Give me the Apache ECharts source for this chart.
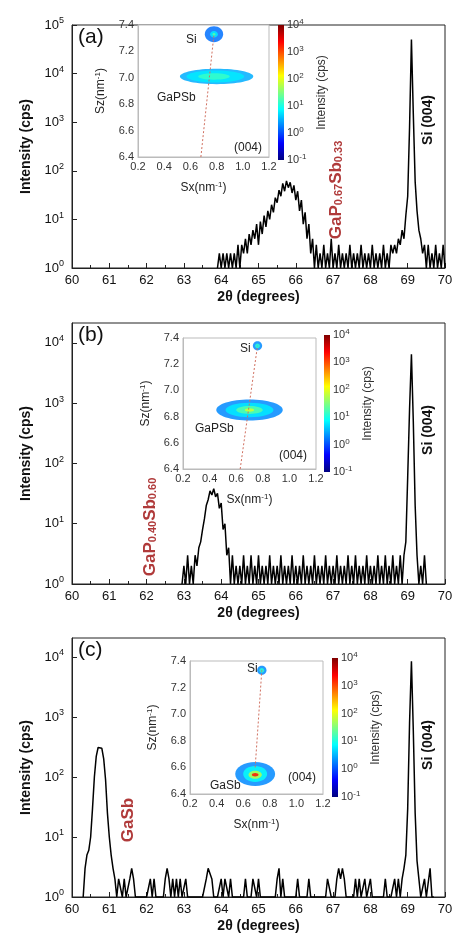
<!DOCTYPE html>
<html>
<head>
<meta charset="utf-8">
<script src="https://cdn.jsdelivr.net/npm/echarts@6/dist/echarts.min.js"></script>
<style>html,body{margin:0;padding:0;background:#fff}#main{width:474px;height:934px}</style>
</head>
<body>
<div id="main"></div>
<script>
// XRD scans, 0.05 deg step, start angle per panel
var stepDeg=0.05;
var startA=63.90;
var intensA=[1,2,1,2,1,2,1,2,1,2,1,3,
 1,3,2,4,2,5,3,6,4,8,
 3,9,5,12,7,15,10,20,14,28,
 22,40,30,55,38,62,45,58,35,50,
 25,38,15,25,8,14,4,8,2,4,
 1,3,1,2,1,3,1,2,1,4,
 1,2,1,3,1,2,1,2,1,3,
 1,2,1,2,1,3,1,2,1,2,
 1,3,1,2,1,2,1,3,1,2,
 1,3,2,3,2,4,3,6,4,12,
 30,800,50000,1500,60,15,6,4,2,3,
 1,3,1,2,1,3,1,2,1,3,
 1];
var startB=62.95;
var intensB=[1,2,1,3,1,2,1,3,2,4,
 5,8,12,20,25,35,30,38,28,32,
 18,22,8,10,3,4,1,3,1,2,
 1,2,1,3,1,2,1,3,1,2,
 1,3,1,2,1,2,1,3,1,2,
 1,2,1,3,1,2,1,2,1,3,1,2,1,2,1,3,1,2,1,2,
 1,3,1,2,1,2,1,3,1,2,1,2,1,3,1,2,1,2,1,3,
 1,2,1,3,1,2,1,2,1,3,1,2,1,2,1,3,1,2,1,3,
 1,2,1,3,1,2,1,3,1,3,5,
 60,800,6500,500,20,3,1,2,1,3,1];
var startC=60.30;
var intensC=[1,3,5,6,10,30,100,220,310,330,
 300,200,90,25,10,5,3,2,1,2,
 2,1,2,1,1,2,3,2,1,1,
 1,1,1,1,1,1,2,1,2,1,
 1,1,1,1,2,3,2,1,2,1,
 2,1,2,1,1,2,1,1,1,1,
 1,1,1,1,1,1,2,3,3,2,
 1,1,1,1,2,1,2,2,1,2,
 1,1,1,1,1,1,1,2,1,1,
 1,2,2,1,2,1,1,1,1,1,
 1,1,1,1,2,3,1,2,1,1,
 1,1,1,1,1,2,1,1,1,1,
 1,2,1,1,1,1,1,1,1,1,
 1,2,2,1,1,1,2,3,2,3,
 2,1,1,1,1,1,2,1,2,1,
 1,2,1,1,2,1,1,1,1,1,
 1,1,2,1,1,1,1,2,1,2,
 1,2,
 3,5,30,800,8500,600,25,4,2,1,1,2,1,1,3,1,1];

// reciprocal space maps: [Sx, Sz, rx, rz, intensity]
var rsmA=[[0.80,7.01,0.28,0.058,3],[0.79,7.01,0.22,0.045,6],[0.78,7.01,0.12,0.024,14],
 [0.78,7.33,0.07,0.06,1.5],[0.78,7.33,0.03,0.025,6],[0.78,7.33,0.012,0.01,20]];
var rsmB=[[0.70,6.85,0.25,0.08,2],[0.70,6.85,0.18,0.055,6],[0.70,6.85,0.10,0.03,20],[0.70,6.85,0.035,0.013,80],
 [0.76,7.34,0.035,0.035,2],[0.76,7.34,0.018,0.018,12]];
var rsmC=[[0.69,6.55,0.15,0.09,2],[0.69,6.55,0.09,0.06,8],[0.69,6.545,0.05,0.03,60],[0.69,6.545,0.025,0.013,2000],
 [0.74,7.33,0.035,0.035,2],[0.74,7.33,0.018,0.018,12]];
var lineA=[[0.68,6.4],[0.78,7.33]];
var lineB=[[0.63,6.4],[0.76,7.34]];
var lineC=[[0.69,6.6],[0.74,7.33]];

var jet=['#00007f','#0000ff','#007fff','#00ffff','#7fff7f','#ffff00','#ff7f00','#ff0000','#7f0000'];
var FONT='Liberation Sans';

function pairs(start,vals){
	var out=[];
	for(var i=0;i<vals.length;i++){out.push([+(start+i*stepDeg).toFixed(2),vals[i]]);}
	return out;
}
function pow10(v){
	var e=Math.round(Math.log10(v));
	return '10{s|'+e+'}';
}

var grids=[],xAxes=[],yAxes=[],series=[],graphics=[],mapSeries=[];
var panels=[
	{tag:'(a)',top:25,bottom:268,max:100000,start:startA,vals:intensA,rsm:rsmA,line:lineA,
	 inset:{l:138,t:25,w:131,h:132},cbar:{l:278,t:25,h:135},
	 red:{t:'GaP{s|0.67}Sb{s|0.33}',x:336,y:190},si:{x:428,y:120},
	 txt:[['Si',186,34],['GaPSb',157,92],['(004)',234,142]]},
	{tag:'(b)',top:323,bottom:584,max:21400,start:startB,vals:intensB,rsm:rsmB,line:lineB,
	 inset:{l:183,t:338,w:133,h:131},cbar:{l:324,t:335,h:137},
	 red:{t:'GaP{s|0.40}Sb{s|0.60}',x:150,y:527},si:{x:428,y:430},
	 txt:[['Si',240,343],['GaPSb',195,423],['(004)',279,450]]},
	{tag:'(c)',top:638,bottom:897,max:20700,start:startC,vals:intensC,rsm:rsmC,line:lineC,
	 inset:{l:190,t:661,w:133,h:133},cbar:{l:332,t:658,h:139},
	 red:{t:'GaSb',x:128,y:820},si:{x:428,y:745},
	 txt:[['Si',247,663],['GaSb',210,780],['(004)',288,772]]}
];

panels.forEach(function(p,k){
	var g=grids.length;
	// main plot
	grids.push({left:72,width:373,top:p.top,height:p.bottom-p.top,show:true,borderColor:'#222',borderWidth:1});
	xAxes.push({gridIndex:g,type:'value',min:60,max:70,interval:1,
		name:'2θ (degrees)',nameLocation:'middle',nameGap:22,
		nameTextStyle:{fontFamily:FONT,fontWeight:'bold',fontSize:14,color:'#111'},
		axisLine:{lineStyle:{color:'#222'}},axisTick:{inside:true,length:5},
		minorTick:{show:true,splitNumber:2,length:3},
		axisLabel:{fontFamily:FONT,fontSize:13,color:'#111',margin:6},splitLine:{show:false}});
	yAxes.push({gridIndex:g,type:'log',logBase:10,min:1,max:p.max,
		name:'Intensity (cps)',nameLocation:'middle',nameGap:36,
		nameTextStyle:{fontFamily:FONT,fontWeight:'bold',fontSize:14,color:'#111'},
		axisLine:{lineStyle:{color:'#222'}},axisTick:{inside:true,length:5},
		axisLabel:{fontFamily:FONT,fontSize:13,color:'#111',showMaxLabel:p.max===100000,formatter:pow10,
			rich:{s:{fontSize:9,verticalAlign:'top',padding:[0,0,8,0],fontFamily:FONT,color:'#111'}}},
		splitLine:{show:false}});
	series.push({type:'line',xAxisIndex:g,yAxisIndex:g,data:pairs(p.start,p.vals),showSymbol:false,
		lineStyle:{color:'#000',width:1.5},z:3});

	// inset map
	var gi=grids.length;
	grids.push({left:p.inset.l,top:p.inset.t,width:p.inset.w,height:p.inset.h,show:true,borderColor:'#bbb',borderWidth:1,backgroundColor:'#fff',z:5});
	xAxes.push({gridIndex:gi,type:'value',min:0.2,max:1.2,interval:0.2,
		name:'Sx(nm{s|-1})',nameLocation:'middle',nameGap:24,
		nameTextStyle:{fontFamily:FONT,fontSize:12,color:'#222',rich:{s:{fontSize:8,verticalAlign:'top',padding:[0,0,6,0]}}},
		axisLine:{lineStyle:{color:'#bbb'}},axisTick:{show:false},
		axisLabel:{fontFamily:FONT,fontSize:11,color:'#333',margin:4,formatter:function(v){return v.toFixed(1);}},splitLine:{show:false},z:6});
	yAxes.push({gridIndex:gi,type:'value',min:6.4,max:7.4,interval:0.2,
		name:'Sz(nm{s|-1})',nameLocation:'middle',nameGap:30,
		nameTextStyle:{fontFamily:FONT,fontSize:12,color:'#222',rich:{s:{fontSize:8,verticalAlign:'top',padding:[0,0,6,0]}}},
		axisLine:{lineStyle:{color:'#bbb'}},axisTick:{show:false},
		axisLabel:{fontFamily:FONT,fontSize:11,color:'#333',margin:4,formatter:function(v){return v.toFixed(1);}},splitLine:{show:false},z:6});
	mapSeries.push(series.length);
	series.push({type:'custom',xAxisIndex:gi,yAxisIndex:gi,z:7,
		data:p.rsm.map(function(r){return r.concat([Math.log10(r[4])]);}),
		encode:{x:0,y:1},
		renderItem:function(params,api){
			var c=api.coord([api.value(0),api.value(1)]);
			var e=api.coord([api.value(0)+api.value(2),api.value(1)+api.value(3)]);
			return {type:'ellipse',shape:{cx:c[0],cy:c[1],rx:Math.abs(e[0]-c[0]),ry:Math.abs(c[1]-e[1])},
				style:{fill:api.visual('color'),opacity:0.85}};
		}});
	series.push({type:'line',xAxisIndex:gi,yAxisIndex:gi,data:p.line,showSymbol:false,z:8,
		lineStyle:{color:'#d07060',width:1,type:[2,2]}});

	// colorbar axis
	var gc=grids.length;
	grids.push({left:p.cbar.l,top:p.cbar.t,width:6,height:p.cbar.h,show:false,z:5});
	xAxes.push({gridIndex:gc,type:'value',show:false,min:0,max:1});
	yAxes.push({gridIndex:gc,type:'log',min:0.1,max:10000,position:'right',
		name:'Intensity (cps)',nameLocation:'middle',nameGap:32,nameRotate:90,
		nameTextStyle:{fontFamily:FONT,fontSize:12,color:'#333'},
		axisLine:{show:false},axisTick:{show:false},splitLine:{show:false},
		axisLabel:{fontFamily:FONT,fontSize:11,color:'#333',margin:3,formatter:pow10,
			rich:{s:{fontSize:8,verticalAlign:'top',padding:[0,0,6,0],color:'#333'}}}});
	graphics.push({type:'rect',z:10,shape:{x:p.cbar.l,y:p.cbar.t,width:6,height:p.cbar.h},
		style:{fill:new echarts.graphic.LinearGradient(0,1,0,0,jet.map(function(c,i){return {offset:i/(jet.length-1),color:c};}))}});

	// texts
	graphics.push({type:'text',left:78,top:p.top+2,z:20,style:{text:p.tag,font:'21px '+FONT,fill:'#111'}});
	graphics.push({type:'text',x:p.red.x,y:p.red.y,rotation:Math.PI/2,z:20,
		style:{text:p.red.t,align:'center',verticalAlign:'middle',font:'bold 17px '+FONT,fill:'#b03a3a',
			rich:{s:{font:'bold 11px '+FONT,fill:'#b03a3a',verticalAlign:'bottom',padding:[6,0,0,0]}}}});
	graphics.push({type:'text',x:p.si.x,y:p.si.y,rotation:Math.PI/2,z:20,
		style:{text:'Si (004)',align:'center',verticalAlign:'middle',font:'bold 14px '+FONT,fill:'#111'}});
	p.txt.forEach(function(t){
		graphics.push({type:'text',x:t[1],y:t[2],z:20,style:{text:t[0],font:'12px '+FONT,fill:'#222'}});
	});
});

var chart=echarts.init(document.getElementById('main'));
chart.setOption({
	animation:false,
	grid:grids,xAxis:xAxes,yAxis:yAxes,series:series,graphic:graphics,
	visualMap:{show:false,type:'continuous',min:-1,max:4,dimension:5,seriesIndex:mapSeries,inRange:{color:jet}}
});
</script>
</body>
</html>
